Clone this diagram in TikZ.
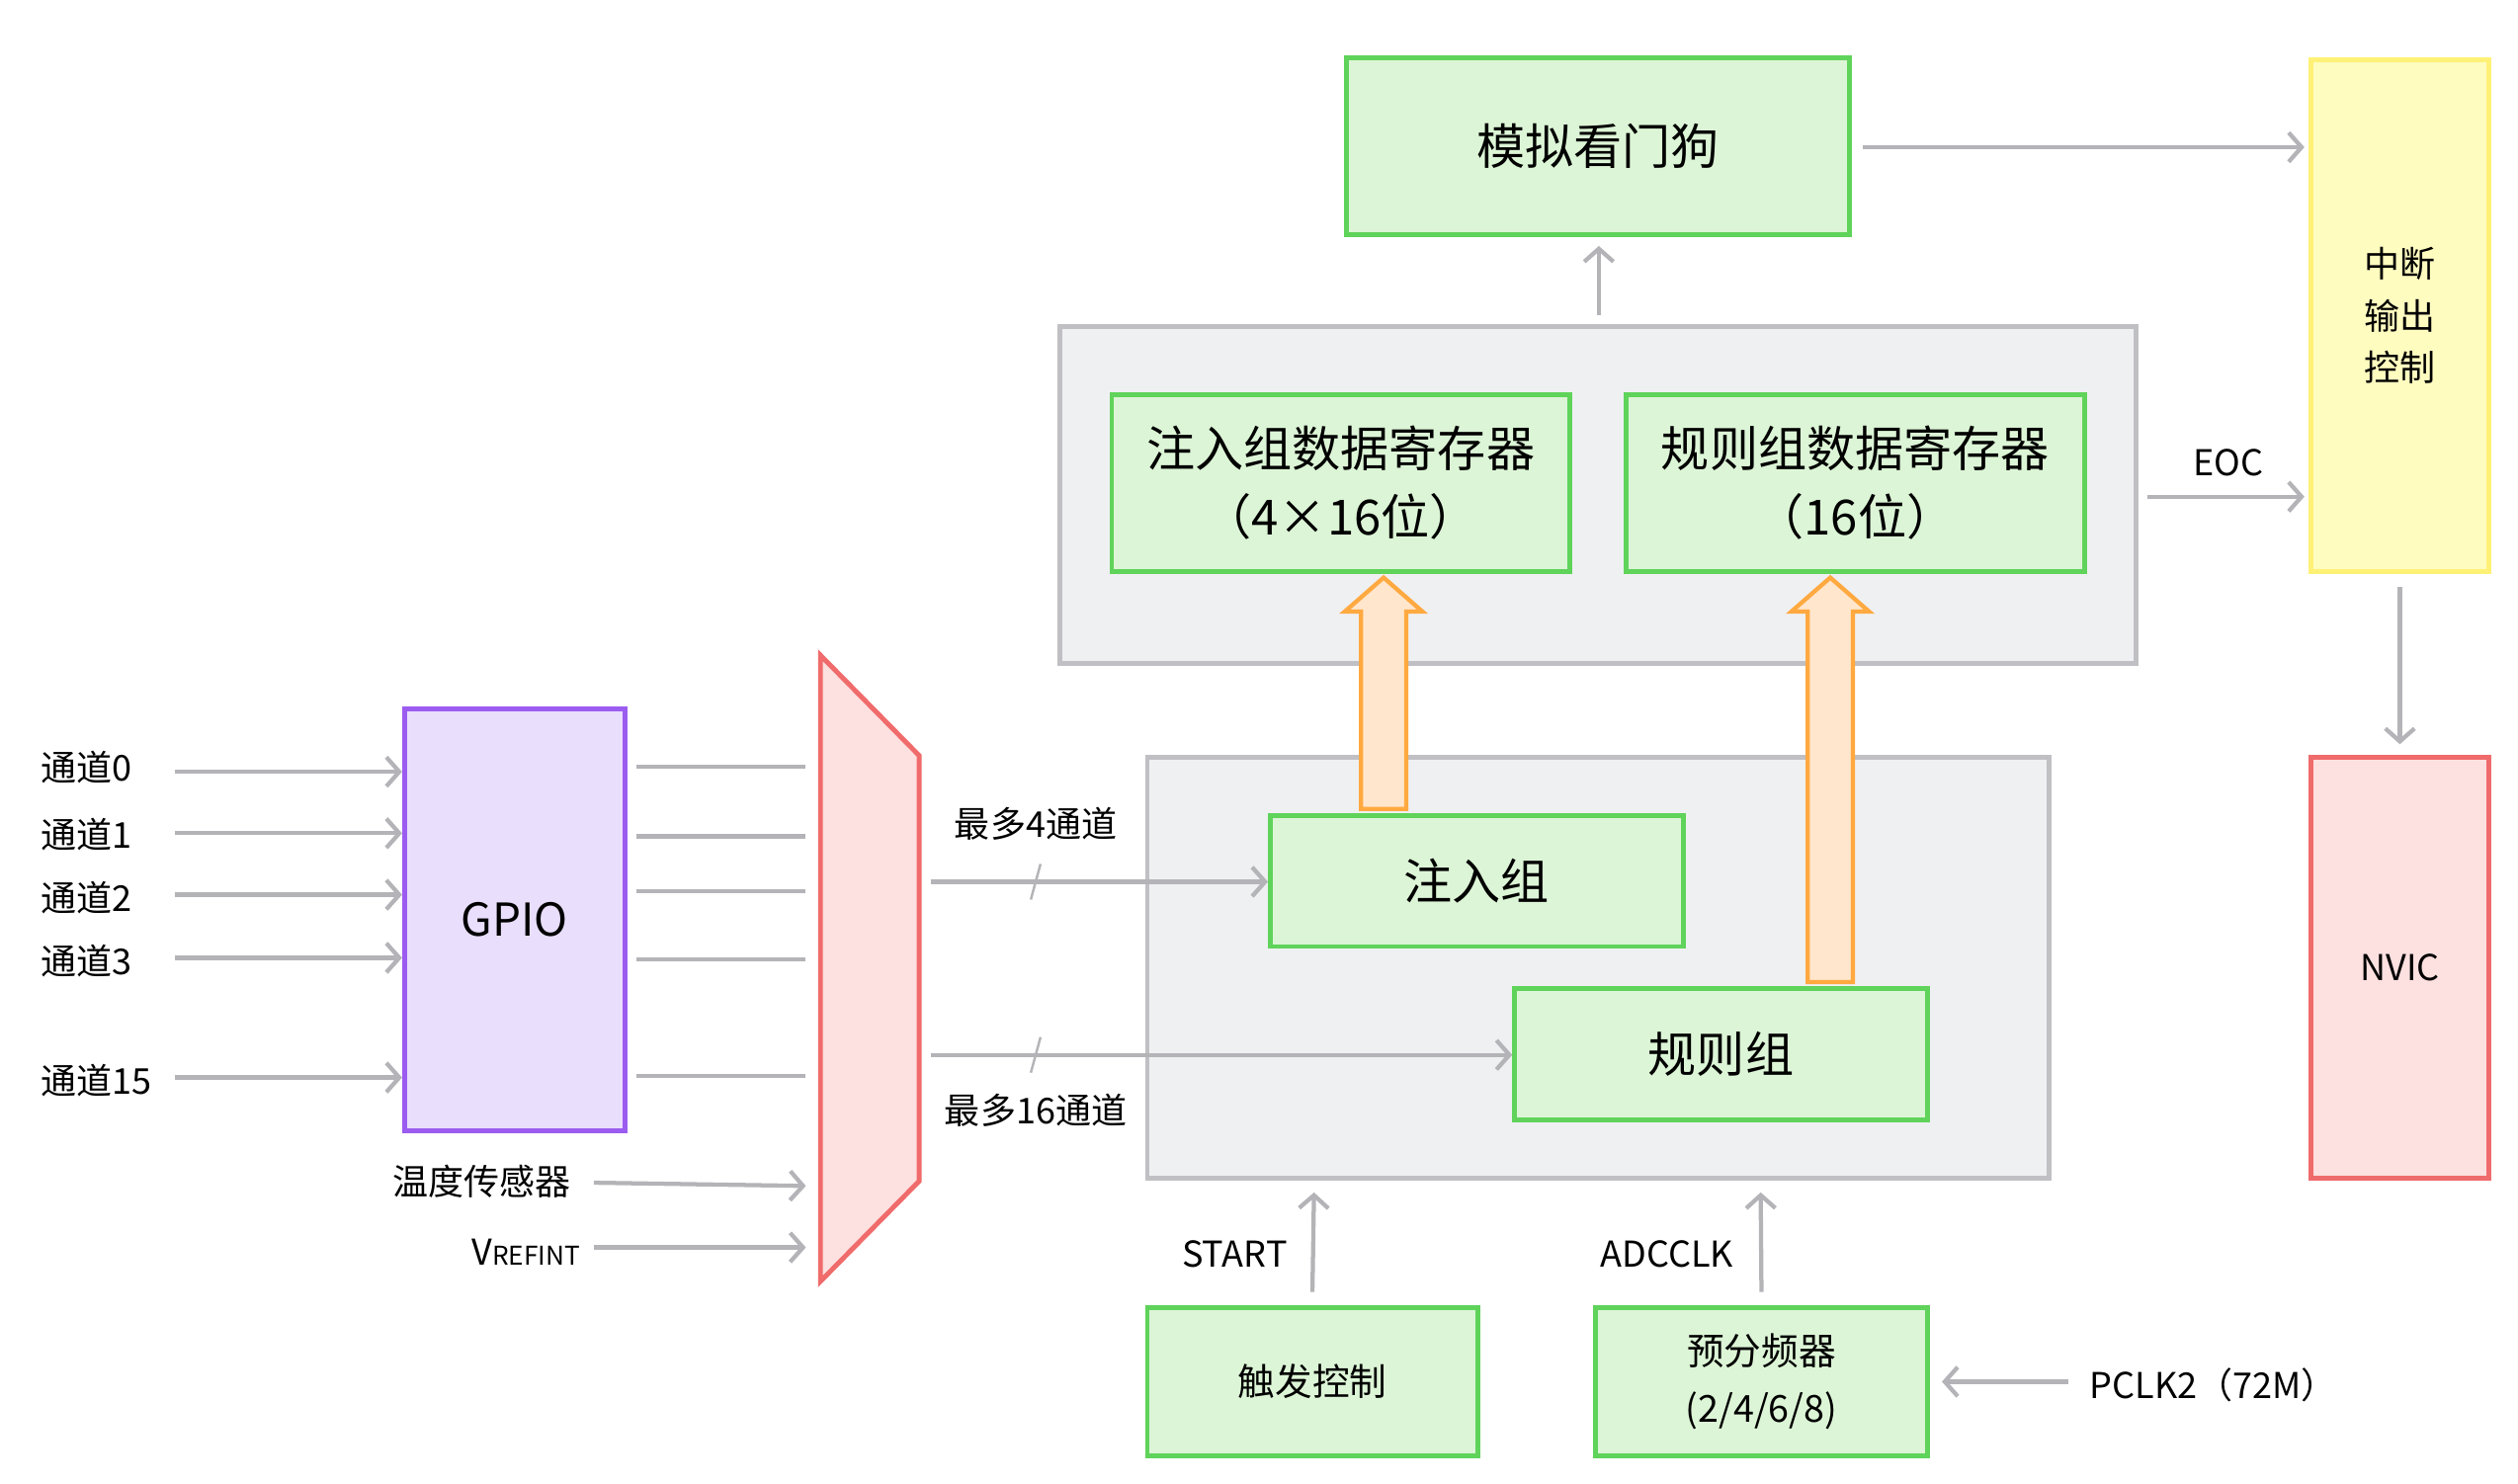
\documentclass[tikz,border=0pt]{standalone}
\usepackage{fontspec}
\setmainfont{Noto Sans CJK SC}
\usetikzlibrary{arrows.meta}
\definecolor{gfill}{HTML}{DCF5D6}\definecolor{gline}{HTML}{5FD35A}
\definecolor{grayf}{HTML}{EFF0F2}\definecolor{grayl}{HTML}{C0C0C4}
\definecolor{conn}{HTML}{B4B4B8}
\definecolor{yf}{HTML}{FFFCC0}\definecolor{yl}{HTML}{FFF176}
\definecolor{rf}{HTML}{FDE0E0}\definecolor{rl}{HTML}{F06B6B}
\definecolor{pf}{HTML}{E9DEFC}\definecolor{pl}{HTML}{9B5CF0}
\definecolor{of}{HTML}{FFE6CC}\definecolor{ol}{HTML}{FFA940}
\begin{document}
\begin{tikzpicture}[x=1pt,y=-1pt,
 box/.style={draw=#1,line width=3pt,inner sep=0pt},
 ar/.style={draw=conn,line width=2.6pt,-{Straight Barb[length=8pt,width=18pt,line width=2.6pt]}},
 ln/.style={draw=conn,line width=2.6pt},
 big/.style={font=\fontsize{30}{42}\selectfont},
 mid/.style={font=\fontsize{23}{35}\selectfont},
 sm/.style={font=\fontsize{22}{32}\selectfont},
 hol/.style={draw=ol,fill=of,line width=2.6pt,line join=miter}]
\useasboundingbox (0,0) rectangle (1556,917);
% big gray boxes
\draw[fill=grayf,draw=grayl,line width=3pt] (655,202) rectangle (1320,410);
\draw[fill=grayf,draw=grayl,line width=3pt] (709,468) rectangle (1266,728);
% green boxes
\node[box=gline,fill=gfill,minimum width=311pt,minimum height=109pt,big] (wd) at (987.5,90.5) {模拟看门狗};
\node[box=gline,fill=gfill,minimum width=283pt,minimum height=109pt,big,align=center] (jr) at (828.5,298.5) {注入组数据寄存器\\（4×16位）};
\node[box=gline,fill=gfill,minimum width=283pt,minimum height=109pt,big,align=center] (rr) at (1146.5,298.5) {规则组数据寄存器\\（16位）};
\node[box=gline,fill=gfill,minimum width=255pt,minimum height=81pt,big] (jg) at (912.5,544.5) {注入组};
\node[box=gline,fill=gfill,minimum width=255pt,minimum height=81pt,big] (rg) at (1063.5,651.5) {规则组};
\node[box=gline,fill=gfill,minimum width=204pt,minimum height=92pt,mid] (tc) at (811,854) {触发控制};
\node[box=gline,fill=gfill,minimum width=205pt,minimum height=92pt,mid,align=center] (pre) at (1088.5,854) {预分频器\\(2/4/6/8)};
\node[box=yl,fill=yf,minimum width=110pt,minimum height=316pt,sm,align=center] (int) at (1483,195) {中断\\输出\\控制};
\node[box=rl,fill=rf,minimum width=110pt,minimum height=260pt,sm] (nvic) at (1483,598) {NVIC};
\node[box=pl,fill=pf,minimum width=136pt,minimum height=261pt,font=\fontsize{28}{34}\selectfont] (gpio) at (318,568.5) {GPIO};
% mux
\draw[draw=rl,fill=rf,line width=3pt] (507,405) -- (568,467) -- (568,730) -- (507,792) -- cycle;
% hollow arrows
\draw[hol] (841,500) -- (841,378) -- (831,378) -- (855,357) -- (879,378) -- (869,378) -- (869,500) -- cycle;
\draw[hol] (1117,607) -- (1117,378) -- (1107,378) -- (1131,357) -- (1155,378) -- (1145,378) -- (1145,607) -- cycle;
% channel labels
\foreach \t/\y/\ya in {0/474/477,1/516/515,2/555/553,3/594/592,15/668/666}{
 \node[sm,anchor=west] (c\t) at (22,\y) {通道\t};
 \coordinate (cs\t) at (108,\ya);
 \draw[ar] (cs\t) -- (gpio.west |- cs\t);
}
\foreach \i/\y in {1/474,2/517,3/551,4/593,5/665}{
 \coordinate (go\i) at (393,\y); \coordinate (mi\i) at (498,\y);
 \draw[ln] (go\i) -- (mi\i);
}
\node[sm,anchor=east] (temp) at (356,730) {温度传感器};
\node[anchor=east,font=\fontsize{22}{28}\selectfont] (vref) at (362,774) {V\fontsize{16}{20}\selectfont REFINT};
\coordinate (ts) at (367,731); \coordinate (te) at (498,733);
\coordinate (vs) at (367,771); \coordinate (ve) at (498,771);
\draw[ar] (ts) -- (te); \draw[ar] (vs) -- (ve);
% mux outputs
\coordinate (m1) at (575,545); \coordinate (m2) at (575,652);
\draw[ar] (m1) -- (jg.west |- m1);
\draw[ar] (m2) -- (rg.west |- m2);
\draw[ln,line width=1.5pt] (637,556) -- (643,534);
\draw[ln,line width=1.5pt] (637,663) -- (643,641);
\node[sm] (l4) at (640,509) {最多4通道};
\node[sm] (l16) at (640,686) {最多16通道};
% bottom
\coordinate (b1) at (812,737); \coordinate (b2) at (1088,737);
\draw[ar] (tc.north) ++(0,-8) -- (b1);
\draw[ar] (pre.north) ++(0,-8) -- (b2);
\node[sm] (start) at (763,775) {START};
\node[sm] (adc) at (1030,775) {ADCCLK};
\node[sm,anchor=west] (pclk) at (1288,856) {PCLK2（72M）};
\coordinate (pe) at (1200,854);
\draw[ar] (1278,854) -- (pe);
% top
\coordinate (wb) at (988,195);
\draw[ar] (wb) -- (988,152);
\draw[ar] (1151,91) -- (1424,91);
\draw[ar] (1327,307) -- (1424,307);
\node[sm] (eoc) at (1377,286) {EOC};
\draw[ar] (int.south) ++(0,8) -- (1483,460);
\end{tikzpicture}
\end{document}
